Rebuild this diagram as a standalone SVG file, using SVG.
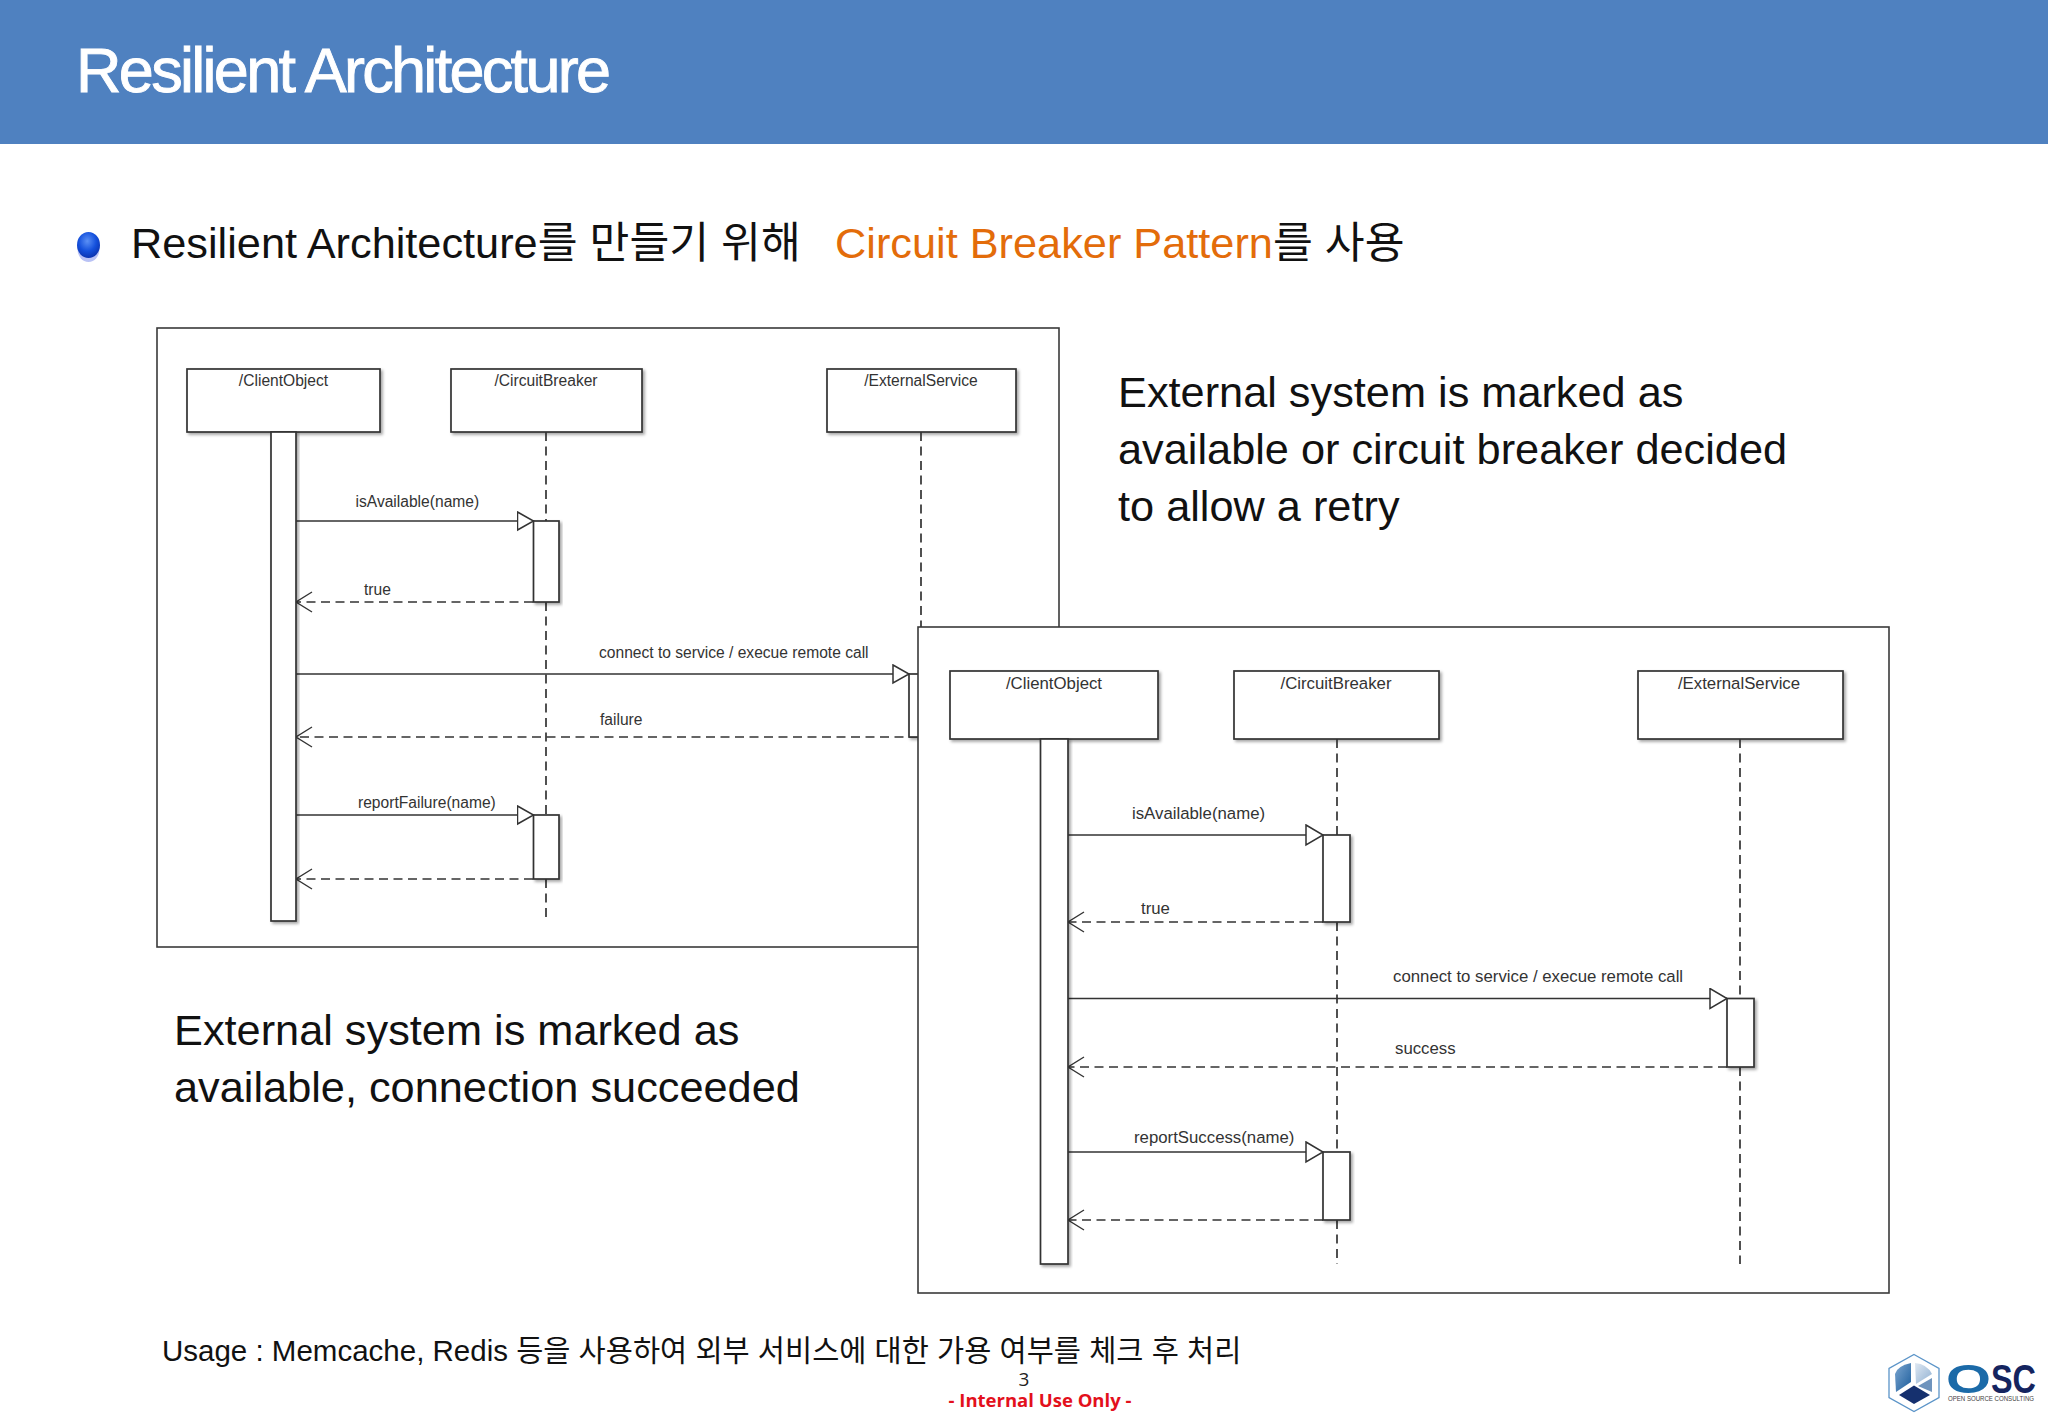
<svg xmlns="http://www.w3.org/2000/svg" width="2048" height="1418" viewBox="0 0 2048 1418">
<style>
text{font-family:"Liberation Sans","Noto Sans CJK KR",sans-serif;fill:#000}
.title{font-size:63px;fill:#fff;stroke:#fff;stroke-width:.9px;letter-spacing:-2.7px}
.big{font-size:43.3px;fill:#111}
.usage{font-size:29.5px;fill:#111}
.orange{fill:#e36c0a}
.frame{fill:#fff;stroke:#3a3a3a;stroke-width:1.6}
.box{fill:#fff;stroke:#333;stroke-width:1.7;filter:url(#sh)}
.act{fill:#fff;stroke:#333;stroke-width:1.7;filter:url(#sh)}
.m{fill:none;stroke:#333;stroke-width:1.7}
.d{fill:none;stroke:#333;stroke-width:1.7;stroke-dasharray:9 5.5}
.a1 text,text.a1{font-size:15.6px;fill:#333}
.a2 text,text.a2{font-size:16.8px;fill:#333}
.c{text-anchor:middle}
</style>
<defs>
<filter id="sh" x="-10%" y="-10%" width="125%" height="125%"><feDropShadow dx="2" dy="2" stdDeviation="1.5" flood-color="#000" flood-opacity=".35"/></filter>
<radialGradient id="ball" cx=".45" cy=".35" r=".7"><stop offset="0" stop-color="#5b90f5"/><stop offset=".55" stop-color="#1450dc"/><stop offset="1" stop-color="#0a2fa8"/></radialGradient>
<linearGradient id="hx1" x1="0" y1="0" x2="1" y2="1"><stop offset="0" stop-color="#7ca6d0"/><stop offset="1" stop-color="#1c5d9c"/></linearGradient>
<linearGradient id="hx2" x1="0" y1="0" x2="1" y2="1"><stop offset="0" stop-color="#dfe8f2"/><stop offset="1" stop-color="#8fb0d2"/></linearGradient>
<marker id="tri1" markerUnits="userSpaceOnUse" markerWidth="20" markerHeight="22" refX="17" refY="10" orient="auto"><path d="M1 1 L17 10 L1 19Z" fill="#fff" stroke="#333" stroke-width="1.5"/></marker>
<marker id="tri2" markerUnits="userSpaceOnUse" markerWidth="22" markerHeight="24" refX="18" refY="11" orient="auto"><path d="M1 1 L18 11 L1 21Z" fill="#fff" stroke="#333" stroke-width="1.5"/></marker>
<marker id="vee1" markerUnits="userSpaceOnUse" markerWidth="20" markerHeight="24" refX="17" refY="11" orient="auto"><path d="M1 1 L17 11 L1 21" fill="none" stroke="#333" stroke-width="1.4"/></marker>
<marker id="vee2" markerUnits="userSpaceOnUse" markerWidth="20" markerHeight="24" refX="17" refY="11" orient="auto"><path d="M1 1 L17 11 L1 21" fill="none" stroke="#333" stroke-width="1.4"/></marker>
</defs>
<rect width="2048" height="1418" fill="#fff"/>
<rect id="header" width="2048" height="144" fill="#4f81c0"/>
<text class="title" x="76" y="92">Resilient Architecture</text>
<g id="bullet"><ellipse cx="88.500" cy="249" rx="11" ry="13" fill="#b9c2f5"/><ellipse cx="88.500" cy="245" rx="11.500" ry="13" fill="url(#ball)"/></g>
<text class="big" x="131" y="258">Resilient Architecture를 만들기 위해 <tspan class="orange" x="835">Circuit Breaker Pattern</tspan>를 사용</text>
<text class="big" x="1118" y="407">External system is marked as</text>
<text class="big" x="1118" y="464">available or circuit breaker decided</text>
<text class="big" x="1118" y="521">to allow a retry</text>
<text class="big" x="174" y="1045">External system is marked as</text>
<text class="big" x="174" y="1102">available, connection succeeded</text>

<g id="diagram1">
<rect class="frame" x="157" y="328" width="902" height="619"/>
<g id="d1-client"><rect class="box" x="187" y="369" width="193" height="63"/><text class="a1 c" x="283.500" y="386">/ClientObject</text></g>
<g id="d1-breaker"><rect class="box" x="451" y="369" width="191" height="63"/><text class="a1 c" x="546" y="386">/CircuitBreaker</text></g>
<g id="d1-external"><rect class="box" x="827" y="369" width="189" height="63"/><text class="a1 c" x="921" y="386">/ExternalService</text></g>
<g id="d1-connectors">
<path class="d" d="M546 432V521M546 602V815M546 879V921M921 432V674"/>
<path class="m" d="M296 521H533.500" marker-end="url(#tri1)"/>
<path class="d" d="M533 602H296" marker-end="url(#vee1)"/>
<path class="m" d="M296 674H909" marker-end="url(#tri1)"/>
<path class="d" d="M918 737H296" marker-end="url(#vee1)"/>
<path class="m" d="M296 815H533.500" marker-end="url(#tri1)"/>
<path class="d" d="M533 879H296" marker-end="url(#vee1)"/>
</g>
<rect class="act" x="271" y="432" width="25" height="489"/>
<rect class="act" x="533.500" y="521" width="25.500" height="81"/>
<rect class="act" x="909" y="674" width="25" height="63"/>
<rect class="act" x="533.500" y="815" width="25.500" height="64"/>
<g class="a1">
<text x="355.500" y="507">isAvailable(name)</text>
<text x="364" y="595">true</text>
<text x="599" y="658">connect to service / execue remote call</text>
<text x="600" y="725">failure</text>
<text x="358" y="808">reportFailure(name)</text>
</g>
</g>

<g id="diagram2">
<rect class="frame" x="918" y="627" width="971" height="666"/>
<g id="d2-client"><rect class="box" x="950" y="671" width="208" height="68"/><text class="a2 c" x="1054" y="689">/ClientObject</text></g>
<g id="d2-breaker"><rect class="box" x="1234" y="671" width="205" height="68"/><text class="a2 c" x="1336" y="689">/CircuitBreaker</text></g>
<g id="d2-external"><rect class="box" x="1638" y="671" width="205" height="68"/><text class="a2 c" x="1739" y="689">/ExternalService</text></g>
<g id="d2-connectors">
<path class="d" d="M1337 739V835M1337 922V1152M1337 1220V1264M1740 739V998M1740 1067V1264"/>
<path class="m" d="M1068 835H1323" marker-end="url(#tri2)"/>
<path class="d" d="M1323 922H1068" marker-end="url(#vee2)"/>
<path class="m" d="M1068 998.500H1727" marker-end="url(#tri2)"/>
<path class="d" d="M1727 1067H1068" marker-end="url(#vee2)"/>
<path class="m" d="M1068 1152H1323" marker-end="url(#tri2)"/>
<path class="d" d="M1323 1220H1068" marker-end="url(#vee2)"/>
</g>
<rect class="act" x="1040.500" y="739" width="27.500" height="525"/>
<rect class="act" x="1323" y="835" width="27" height="87"/>
<rect class="act" x="1727" y="998.500" width="27" height="68.500"/>
<rect class="act" x="1323" y="1152" width="27" height="68"/>
<g class="a2">
<text x="1132" y="819">isAvailable(name)</text>
<text x="1141" y="914">true</text>
<text x="1393" y="982">connect to service / execue remote call</text>
<text x="1395" y="1054">success</text>
<text x="1134" y="1143">reportSuccess(name)</text>
</g>
</g>

<text class="usage" x="162" y="1361">Usage : Memcache, Redis 등을 사용하여 외부 서비스에 대한 가용 여부를 체크 후 처리</text>
<text x="1024" y="1386" text-anchor="middle" style="font-family:'Open Sans',sans-serif;font-size:19px;fill:#222">3</text>
<text x="1040" y="1407" text-anchor="middle" style="font-family:'Open Sans',sans-serif;font-size:18.500px;font-weight:700;fill:#e3101c">- Internal Use Only -</text>

<g id="logo">
<path d="M1914 1354.500L1939 1368.500V1397.500L1914 1411.500L1889 1397.500V1368.500Z" fill="#fff" stroke="#5b94c8" stroke-width="1.300"/>
<path d="M1911 1363L1911 1382L1896 1392L1895 1374Q1897 1366 1911 1363Z" fill="url(#hx1)"/>
<path d="M1915 1363Q1927 1364 1932 1374L1916 1384Z" fill="url(#hx2)"/>
<path d="M1918 1386L1932 1378V1392Z" fill="#6f94bd"/>
<path d="M1899 1395L1914 1385.500L1930 1395L1914 1404Z" fill="#15306e"/>
<text x="1946" y="1393" textLength="45" lengthAdjust="spacingAndGlyphs" style="font-size:40px;font-weight:700;fill:#1b6aa8">O</text>
<text x="1991" y="1393" textLength="45" lengthAdjust="spacingAndGlyphs" style="font-size:40px;font-weight:700;fill:#14245f">SC</text>
<text x="1948" y="1401" textLength="86" lengthAdjust="spacingAndGlyphs" style="font-size:7.500px;fill:#444">OPEN SOURCE CONSULTING</text>
</g>
</svg>
